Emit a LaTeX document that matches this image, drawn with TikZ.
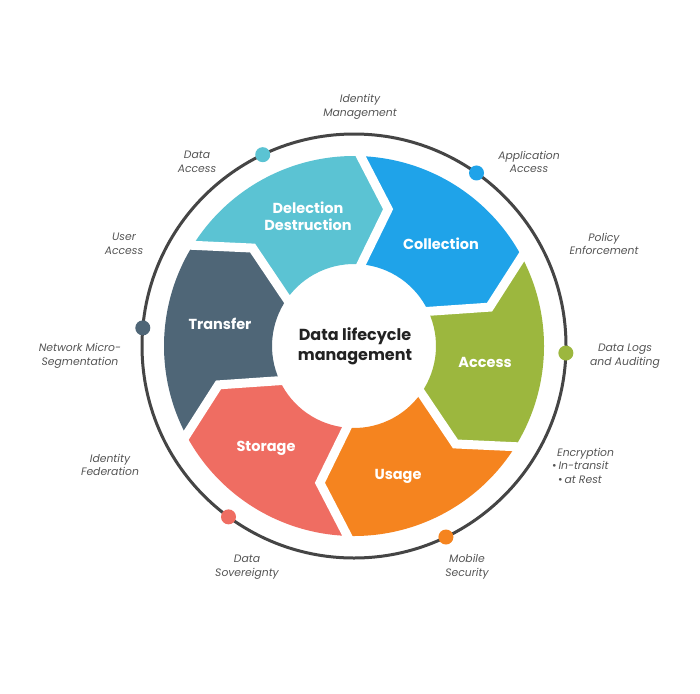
\documentclass[tikz,border=0pt]{standalone}
\usepackage{fontspec}
\setmainfont{Poppins}
\usetikzlibrary{calc}
\definecolor{cDel}{HTML}{5BC3D3}
\definecolor{cCol}{HTML}{1FA3E9}
\definecolor{cAcc}{HTML}{9CB73E}
\definecolor{cUsa}{HTML}{F5841F}
\definecolor{cSto}{HTML}{EF6D62}
\definecolor{cTra}{HTML}{4F6677}
\definecolor{ringgray}{HTML}{454545}
\definecolor{labgray}{HTML}{555555}
\definecolor{centertext}{HTML}{222222}
\newcommand\dlseg[3]{%
  \fill[#1] (O#2) arc[start angle={212+60*#2}, end angle={212+60*#3}, radius=190]
    -- (M#3) -- (I#3) arc[start angle={215+60*#3}, end angle={215+60*#2}, radius=82]
    -- (M#2) -- cycle;}
\newcommand\dlbul{{\upshape\fontsize{11}{11}\selectfont\textbullet}}
\begin{document}
\begin{tikzpicture}[x=1pt,y=-1pt,
  seglabel/.style={text=white, font=\fontsize{14.5}{17}\selectfont\bfseries, align=center},
  sidelabel/.style={text=labgray, font=\fontsize{10.8}{13.5}\selectfont\itshape, align=center, inner sep=0pt},
  ringdot/.style={circle, inner sep=0pt, minimum size=15pt}]
\fill[white] (0,0) rectangle (700,693);
\useasboundingbox (0,0) rectangle (700,693);
\coordinate (C) at (354,346);
\foreach \j in {0,...,6}{
  \coordinate (O\j) at ($(C)+({212+60*\j}:190)$);
  \coordinate (M\j) at ($(C)+({224+60*\j}:141)$);
  \coordinate (I\j) at ($(C)+({215+60*\j}:82)$);
}
% outer ring
\draw[ringgray, line width=3pt] (C) circle[radius=212];
% segments
\dlseg{cDel}{0}{1}
\dlseg{cCol}{1}{2}
\dlseg{cAcc}{2}{3}
\dlseg{cUsa}{3}{4}
\dlseg{cSto}{4}{5}
\dlseg{cTra}{5}{6}
% gaps
\foreach \j in {0,...,5}{
  \draw[white, line width=9pt, line join=miter] ($(M\j)!1.15!(O\j)$) -- (M\j) -- ($(M\j)!1.2!(I\j)$);
}
% dots on ring
\node[ringdot, fill=cDel] (dDA) at ($(C)+(244.5:212)$) {};
\node[ringdot, fill=cCol] (dAA) at ($(C)+(305.3:212)$) {};
\node[ringdot, fill=cAcc] (dDL) at ($(C)+(1.9:212)$) {};
\node[ringdot, fill=cUsa] (dMS) at ($(C)+(64.3:212)$) {};
\node[ringdot, fill=cSto] (dDS) at ($(C)+(126.3:212)$) {};
\node[ringdot, fill=cTra] (dNM) at ($(C)+(184.9:212)$) {};
% segment labels
\node[seglabel] (tDel) at (308,216) {Delection\\Destruction};
\node[seglabel] (tCol) at (441,244) {Collection};
\node[seglabel] (tAcc) at (485,362) {Access};
\node[seglabel] (tUsa) at (398,476) {Usage};
\node[seglabel] (tSto) at (266,448) {Storage};
\node[seglabel] (tTra) at (220,324) {Transfer};
% center
\node[text=centertext, font=\fontsize{16}{19.5}\selectfont\bfseries, align=center] (center) at (355,346.5) {Data lifecycle\\management};
% side labels
\node[sidelabel] (lIM) at (360,107) {Identity\\Management};
\node[sidelabel] (lDA) at (197,162) {Data\\Access};
\node[sidelabel] (lAA) at (529,162) {Application\\Access};
\node[sidelabel] (lUA) at (124,244) {User\\Access};
\node[sidelabel] (lPE) at (604,244) {Policy\\Enforcement};
\node[sidelabel] (lNM) at (80,356) {Network Micro-\\Segmentation};
\node[sidelabel] (lDL) at (625,356) {Data Logs\\and Auditing};
\node[sidelabel] (lIF) at (110,465) {Identity\\Federation};
\node[sidelabel, align=left, anchor=north west] (lEN) at (552,448) {\hspace*{5pt}Encryption\\\dlbul\,In-transit\\\hspace*{6pt}\dlbul\,at Rest};
\node[sidelabel] (lDS) at (247,567) {Data\\Sovereignty};
\node[sidelabel] (lMS) at (467,567) {Mobile\\Security};
\end{tikzpicture}
\end{document}
